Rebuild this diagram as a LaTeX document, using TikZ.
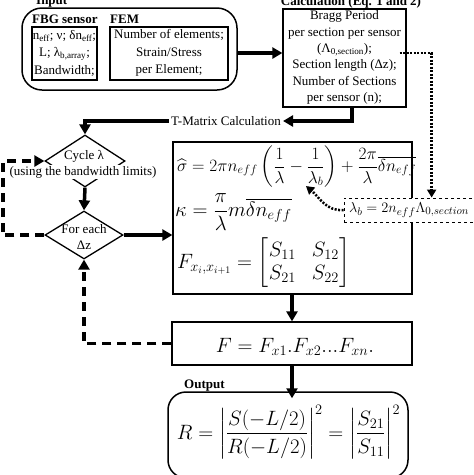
\documentclass[tikz,border=0pt]{standalone}
\usepackage[no-math]{fontspec}
\setmainfont{Liberation Serif}
\usepackage{amsmath}
\usetikzlibrary{arrows.meta,shapes.geometric}
\begin{document}
\begin{tikzpicture}[x=1pt,y=-1pt,
  box/.style={draw, line width=1.3pt, inner sep=0pt},
  flow/.style={line width=3.5pt, -{Triangle[length=10pt,width=11pt]}},
  dashflow/.style={line width=3.5pt, dash pattern=on 9pt off 6pt, -{Triangle[length=10pt,width=11pt]}},
  dotflow/.style={line width=2.5pt, dash pattern=on 2pt off 1.5pt, -{Triangle[length=8pt,width=9pt]}},
  txt/.style={font=\fontsize{13}{16.4}\selectfont, align=center, inner sep=0pt},
  ttl/.style={font=\fontsize{13}{16}\selectfont\bfseries, inner sep=0pt},
  eq/.style={inner sep=0pt},
]
\useasboundingbox (0,0) rectangle (474,475);
% Input
\node[box, rounded corners=20pt, line width=1.5pt, minimum width=215pt, minimum height=82pt] (input) at (129.5,49) {};
\node[ttl, anchor=base west] (inputlbl) at (36,4.5) {Input};
\node[box, minimum width=65pt, minimum height=53pt] (fbg) at (64.5,53.5) {};
\node[ttl, anchor=base west] (fbglbl) at (32,23) {FBG sensor};
\node[txt, font=\fontsize{13}{17.5}\selectfont] (fbgtxt) at (64.5,53) {n\textsubscript{eff}; ν; δn\textsubscript{eff};\\ L; λ\textsubscript{b,array};\\ Bandwidth;};
\node[box, minimum width=118pt, minimum height=53pt] (fem) at (169,53.5) {};
\node[ttl, anchor=base west] (femlbl) at (110,23) {FEM};
\node[txt, font=\fontsize{13}{17.5}\selectfont] (femtxt) at (169,53) {Number of elements;\\ Strain/Stress\\ per Element;};
% Calculation
\node[box, minimum width=123pt, minimum height=98pt] (calc) at (344.5,58) {};
\node[ttl, anchor=base] (calclbl) at (351,5) {Calculation (Eq. 1 and 2)};
\node[txt] (calctxt) at (344.5,57.5) {Bragg Period\\ per section per sensor\\ (Λ\textsubscript{0,section});\\ Section length (Δz);\\ Number of Sections\\ per sensor (n);};
% T-matrix
\node[txt] (tmat) at (226,121) {T-Matrix Calculation};
% diamonds
\node[draw, diamond, line width=1.3pt, minimum width=80pt, minimum height=52pt, inner sep=0pt] (d1) at (85,161) {};
\node[txt] (d1a) at (84,156) {Cycle λ};
\node[txt, fill=white, inner sep=1pt] (d1b) at (83,172) {(using the bandwidth limits)};
\node[draw, diamond, line width=1.3pt, minimum width=78pt, minimum height=48pt, inner sep=0pt] (d2) at (84,235) {};
\node[txt] (d2a) at (84,229.5) {For each};
\node[txt] (d2b) at (84,245) {Δz};
% big box
\node[box, minimum width=239pt, minimum height=152pt] (big) at (292.5,218) {};
\node[eq, anchor=west, font=\fontsize{16.6}{20}\selectfont] (eq1) at (177,167) {$\widehat{\sigma}=2\pi n_{eff}\left(\dfrac{1}{\lambda}-\dfrac{1}{\lambda_b}\right)+\dfrac{2\pi}{\lambda}\overline{\delta n_{eff}}$};
\node[eq, anchor=west, font=\fontsize{20.5}{24}\selectfont] (eq2) at (175,212) {$\kappa=\dfrac{\pi}{\lambda}m\overline{\delta n_{eff}}$};
\node[eq, anchor=west, font=\fontsize{19.3}{23}\selectfont] (eq3) at (177,263) {\setlength{\arraycolsep}{8pt}$F_{x_i,x_{i+1}}=\begin{bmatrix}S_{11} & S_{12}\\ S_{21} & S_{22}\end{bmatrix}$};
\coordinate (lbt) at (306,186);
% lambda_b box
\node[draw, dashed, line width=0.9pt, fill=white, minimum width=130pt, minimum height=24pt, inner sep=0pt, font=\fontsize{15}{18}\selectfont] (lb) at (409,210) {$\lambda_b=2n_{eff}\Lambda_{0,section}$};
% F box
\node[box, minimum width=240pt, minimum height=43pt] (F) at (292,343.5) {};
\node[eq, font=\fontsize{20.3}{24}\selectfont] (Feq) at (295,347) {$F=F_{x1}.F_{x2}...F_{xn}.$};
% Output
\node[box, rounded corners=18pt, line width=1.5pt, minimum width=240pt, minimum height=86pt] (out) at (288,435) {};
\node[ttl, anchor=base west] (outlbl) at (184,388) {Output};
\node[eq, font=\fontsize{22}{26}\selectfont] (outeq) at (288.5,432) {$R=\left|\dfrac{S(-L/2)}{R(-L/2)}\right|^2=\left|\dfrac{S_{21}}{S_{11}}\right|^2$};
% connectors
\draw[flow] ([yshift=-4pt]input.east) -- ([yshift=-4pt]input.east -| calc.west);
\draw[flow] ([xshift=7.5pt]calc.south) |- ([xshift=2pt]tmat.east);
\draw[flow] ([xshift=-2pt]tmat.west) -| (d1.north);
\draw[flow] (d1.south) -- (d2.north);
\draw[flow] (d2.east) -- (d2.east -| big.west);
\draw[dashflow] (d2.west) -- ++(-41.5,0) |- (d1.west);
\draw[dashflow] (F.west) -| (d2.south);
\draw[flow] ([xshift=-0.5pt]big.south) -- (F.north);
\draw[flow, shorten >=-7pt] (F.south) -- (F.south |- out.north);
\draw[dotflow] ([xshift=-7pt,yshift=5pt]calc.east) -- ++(32,0) coordinate (dc) -- (dc |- lb.north);
\draw[dotflow] (lb.west) to[out=185,in=-40] (lbt);
\end{tikzpicture}
\end{document}
